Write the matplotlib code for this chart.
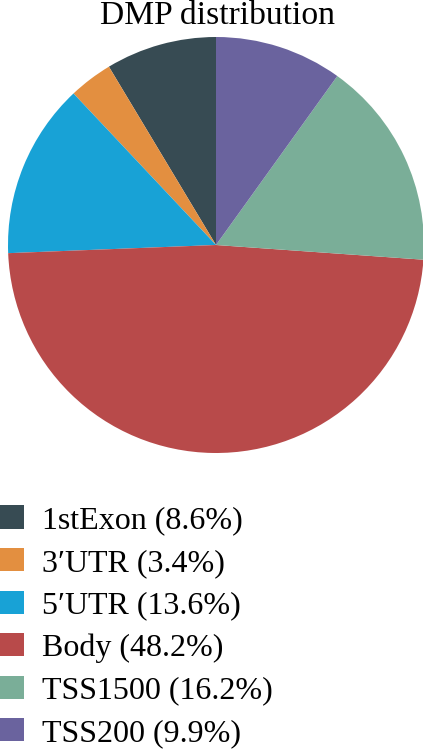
import matplotlib
matplotlib.use("Agg")
import matplotlib.pyplot as plt
from matplotlib.patches import Patch

categories = ["1stExon", "3\u2032UTR", "5\u2032UTR", "Body", "TSS1500", "TSS200"]
values = [8.6, 3.4, 13.6, 48.2, 16.2, 9.9]
colors = ["#374b53", "#e38f40", "#18a2d6", "#b84a4a", "#7aae98", "#6a639e"]
title = "DMP distribution"

W, H = 423, 752
fig = plt.figure(figsize=(W / 100, H / 100), dpi=100)
plt.rcParams['font.family'] = ['Liberation Serif', 'DejaVu Serif']

# pie axes: center (216,245) px, radius 208 px
cx, cy, r = 216, 245, 208
ax = fig.add_axes([(cx - r) / W, (H - cy - r) / H, 2 * r / W, 2 * r / H])
ax.pie(values, colors=colors, startangle=90, counterclock=True, radius=1,
       wedgeprops=dict(linewidth=0))
ax.set_xlim(-1, 1)
ax.set_ylim(-1, 1)
ax.set_aspect('equal')
ax.axis('off')

fig.text(217 / W, 1 - 16 / H, title, ha='center', va='center', fontsize=24.2)

labels = [f"{c} ({v}%)" for c, v in zip(categories, values)]
handles = [Patch(facecolor=col, edgecolor='none') for col in colors]
fs = 23
leg = fig.legend(handles, labels, loc='upper left',
                 bbox_to_anchor=(-0.003, 1 - 505.5 / H), frameon=False,
                 fontsize=fs, handlelength=0.78, handleheight=0.74,
                 handletextpad=0.56, labelspacing=0.4, borderaxespad=0,
                 borderpad=0)

fig.savefig("out.png", dpi=100)
